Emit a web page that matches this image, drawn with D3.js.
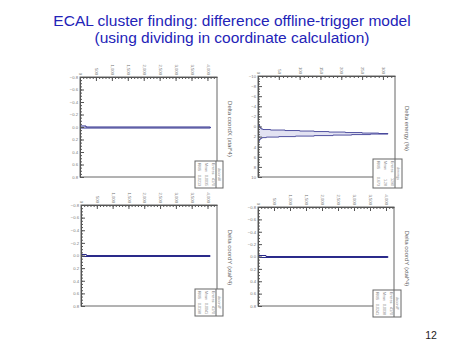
<!DOCTYPE html>
<html><head><meta charset="utf-8">
<script src="https://cdn.jsdelivr.net/npm/d3@7"></script>
<style>
html,body{margin:0;padding:0;background:#fff;}
svg{display:block;}
</style></head>
<body><svg id="c" width="474" height="355"></svg>
<script>
// ---------------- data ----------------
const titleLines = ["ECAL cluster finding: difference offline-trigger model",
                    "(using dividing in coordinate calculation)"];
const pageNumber = "12";

// axis tick values
const coordTicks = [-0.8, -0.6, -0.4, -0.2, 0, 0.2, 0.4, 0.6, 0.8];
const energyTicks = [-10, -8, -6, -4, -2, 0, 2, 4, 6, 8, 10];
const countTicksLarge = [0, 500, 1000, 1500, 2000, 2500, 3000, 3500, 4000];
const countTicksSmall = [0, 50, 100, 150, 200, 250, 300];

// histograms (bin centres, counts)
const coordXCenters = [-0.008, 0.008];
const coordXCounts  = [190, 4090];
const energyCenters = [-0.45, -0.35, -0.25, -0.15, -0.05, 0.05, 0.15, 0.25, 0.35, 0.45, 0.55, 0.65, 0.75, 0.85, 0.95, 1.05, 1.15, 1.25, 1.35, 1.45, 1.55, 1.65, 1.75, 1.85, 1.95, 2.05, 2.15, 2.25, 2.35, 2.45, 2.55, 2.65, 2.75, 2.85, 2.95];
const energyCounts  = [2, 3, 3, 4, 4, 5, 5, 6, 7, 8, 12, 30, 65, 100, 135, 170, 210, 250, 290, 312, 270, 225, 180, 135, 90, 50, 20, 10, 8, 6, 5, 4, 3, 3, 2];
const coordYCenters = [-0.008, 0.008];
const coordYCounts  = [170, 4080];
const coordY2Centers = [-0.008, 0.008];
const coordY2Counts  = [250, 4060];

// stat boxes
const statNames = ["dcoordX", "denergy", "dcoordY", "dcoordY"];
const statEntries = ["4170", "1290", "4170", "4170"];
const statMeans = ["0.0035", "1.28", "0.0041", "0.0038"];
const statRMS = ["0.0213", "0.673", "0.0198", "0.0241"];
const axisTitles = ["Delta coordX (xtal^4)", "Delta energy (%)", "Delta coordY (xtal^4)", "Delta coordY (xtal^4)"];

// ---------------- drawing ----------------
const svg = d3.select("#c");
const blue = "#2323b8";

svg.selectAll("text.title").data(titleLines).join("text")
  .attr("class", "title")
  .attr("x", 232).attr("y", (d, i) => 26 + i * 16.5)
  .attr("text-anchor", "middle")
  .attr("font-family", "Liberation Sans, Arial, sans-serif")
  .attr("font-size", 15.5)
  .attr("fill", blue)
  .text(d => d);

svg.append("text").attr("x", 431).attr("y", 339).attr("text-anchor", "middle")
  .attr("font-family", "Liberation Sans, Arial, sans-serif").attr("font-size", 10.5)
  .attr("fill", "#222").text(pageNumber);

const panels = [
  {x0: 80, x1: 217, y0: 77, y1: 177, cmax: 4300, cTicks: countTicksLarge, vdom: [-0.8, 0.8], vTicks: coordTicks, vbin: 0.016,
   centers: coordXCenters, counts: coordXCounts, fill: false, box: [195, 161, 28, 27], titleX: 228},
  {x0: 258, x1: 395, y0: 76, y1: 177, cmax: 329, cTicks: countTicksSmall, vdom: [-10, 10], vTicks: energyTicks, vbin: 0.1,
   centers: energyCenters, counts: energyCounts, fill: true, box: [373, 159, 29, 29], titleX: 405},
  {x0: 81, x1: 217, y0: 205, y1: 306, cmax: 4300, cTicks: countTicksLarge, vdom: [-0.8, 0.8], vTicks: coordTicks, vbin: 0.016,
   centers: coordYCenters, counts: coordYCounts, fill: false, box: [195, 289, 28, 27], titleX: 228},
  {x0: 258, x1: 394, y0: 207, y1: 306, cmax: 4250, cTicks: countTicksLarge, vdom: [-0.8, 0.8], vTicks: coordTicks, vbin: 0.016,
   centers: coordY2Centers, counts: coordY2Counts, fill: false, box: [373, 290, 28, 27], titleX: 405}
];

const grey = "#555";
panels.forEach((p, i) => {
  const g = svg.append("g");
  const cs = d3.scaleLinear().domain([0, p.cmax]).range([p.x0, p.x1]);
  const vs = d3.scaleLinear().domain(p.vdom).range([p.y0, p.y1]);

  // frame
  g.append("rect").attr("x", p.x0).attr("y", p.y0).attr("width", p.x1 - p.x0).attr("height", p.y1 - p.y0)
    .attr("fill", "none").attr("stroke", "#666").attr("stroke-width", 1);

  // histogram outline (rotated: value vertical, count horizontal)
  const pts = [];
  const half = p.vbin / 2;
  pts.push([cs(0), vs(p.centers[0] - half)]);
  p.centers.forEach((c, k) => {
    pts.push([cs(p.counts[k]), vs(c - half)]);
    pts.push([cs(p.counts[k]), vs(c + half)]);
  });
  pts.push([cs(0), vs(p.centers[p.centers.length - 1] + half)]);
  const line = d3.line();
  if (p.fill) {
    g.append("path").attr("d", line(pts) + "Z").attr("fill", "#e2e2f2").attr("stroke", "none");
  }
  g.append("path").attr("d", line(pts)).attr("fill", "none").attr("stroke", "#2a2a8a")
    .attr("stroke-width", p.fill ? 0.8 : 1);

  // top (count) axis: ticks inside, rotated labels
  const step = p.cTicks[1] - p.cTicks[0];
  const minorC = d3.range(0, p.cmax, step / 5);
  g.append("g").attr("transform", `translate(0,${p.y0})`)
    .call(d3.axisTop(cs).tickValues(minorC).tickSize(-2).tickFormat(""))
    .call(a => a.select(".domain").remove())
    .selectAll("line").attr("stroke", grey);
  const ta = g.append("g").attr("transform", `translate(0,${p.y0})`)
    .call(d3.axisTop(cs).tickValues(p.cTicks).tickSizeInner(-4).tickSizeOuter(0).tickPadding(0))
    .call(a => a.select(".domain").attr("stroke", grey));
  ta.selectAll("line").attr("stroke", grey);
  ta.selectAll("text").attr("font-size", 4.2).attr("fill", "#777")
    .attr("font-family", "Liberation Sans, Arial, sans-serif")
    .attr("text-anchor", "end").attr("dy", "0.32em")
    .attr("transform", "translate(0,-1) rotate(90)").attr("y", 0).attr("x", -1);

  // left (value) axis
  const vstep = p.vTicks[1] - p.vTicks[0];
  const minorV = d3.range(p.vdom[0], p.vdom[1] + 1e-9, vstep / 4);
  g.append("g").attr("transform", `translate(${p.x0},0)`)
    .call(d3.axisLeft(vs).tickValues(minorV).tickSize(-2).tickFormat(""))
    .call(a => a.select(".domain").remove())
    .selectAll("line").attr("stroke", grey);
  const la = g.append("g").attr("transform", `translate(${p.x0},0)`)
    .call(d3.axisLeft(vs).tickValues(p.vTicks).tickSizeInner(-4).tickSizeOuter(0).tickPadding(2));
  la.select(".domain").attr("stroke", grey);
  la.selectAll("line").attr("stroke", grey);
  la.selectAll("text").attr("font-size", 4.2).attr("fill", "#777")
    .attr("font-family", "Liberation Sans, Arial, sans-serif");

  // axis title, rotated
  g.append("text").attr("transform", `translate(${p.titleX},${(p.y0 + p.y1) / 2 + 2}) rotate(90)`)
    .attr("text-anchor", "middle").attr("font-size", 6).attr("fill", "#666")
    .attr("font-family", "Liberation Sans, Arial, sans-serif")
    .text(axisTitles[i]);

  // stat box
  const [bx, by, bw, bh] = p.box;
  g.append("rect").attr("x", bx).attr("y", by).attr("width", bw).attr("height", bh)
    .attr("fill", "#fff").attr("stroke", "#666");
  g.append("line").attr("x1", bx + bw - 7).attr("x2", bx + bw - 7).attr("y1", by).attr("y2", by + bh).attr("stroke", "#666");
  const rot = (x, y, t, anchor) => g.append("text").attr("transform", `translate(${x},${y}) rotate(90)`)
    .attr("text-anchor", anchor).attr("font-size", 3.6).attr("fill", "#777")
    .attr("font-family", "Liberation Sans, Arial, sans-serif").text(t);
  rot(bx + bw - 4.8, by + bh / 2, statNames[i], "middle");
  const rows = [["Entries", statEntries[i]], ["Mean", statMeans[i]], ["RMS", statRMS[i]]];
  rows.forEach((r, k) => {
    const cx = bx + bw - 11 - k * 7;
    rot(cx, by + 2, r[0], "start");
    rot(cx, by + bh - 2, r[1], "end");
  });
});
</script></body></html>
